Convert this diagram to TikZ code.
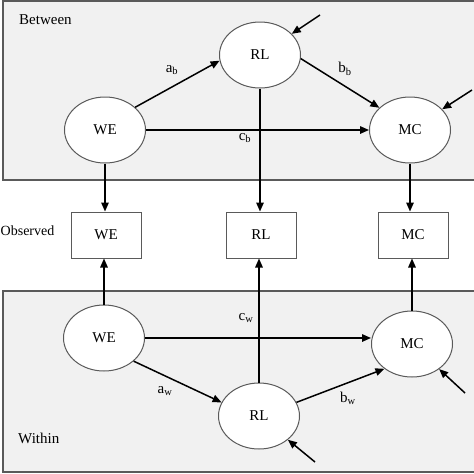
\documentclass[tikz,border=0pt]{standalone}
\usepackage{fontspec}
\setmainfont{Liberation Serif}
\usetikzlibrary{arrows.meta,shapes.geometric}
\definecolor{panelfill}{HTML}{F1F1F1}
\definecolor{edgegray}{HTML}{5A5A5A}
\begin{document}
\begin{tikzpicture}[x=1pt,y=-1pt,
  font=\fontsize{15}{18}\selectfont,
  panel/.style={draw=edgegray,line width=1.4pt,fill=panelfill},
  latent/.style={ellipse,draw=edgegray,line width=1pt,fill=white,minimum width=81pt,minimum height=66pt,inner sep=0pt},
  obs/.style={rectangle,draw=edgegray,line width=1pt,fill=white,minimum width=70pt,minimum height=46pt,inner sep=0pt},
  path/.style={line width=1.5pt,-{Triangle[length=9pt,width=7.5pt]}},
  lab/.style={inner sep=0pt}]
\useasboundingbox (0,0) rectangle (474,474);
\clip (0,0) rectangle (474,474);
% panels
\draw[panel] (3,1) rectangle (490,180);
\draw[panel] (3,291) rectangle (490,472);
\node[lab,anchor=west] (between) at (19,20) {Between};
\node[lab,anchor=west] (within) at (18,438) {Within};
\node[lab,anchor=west,font=\fontsize{14}{17}\selectfont] (observed) at (0.5,231) {Observed};
% between level
\node[latent] (weB) at (105,130) {WE};
\node[latent] (rlB) at (260,55) {RL};
\node[latent] (mcB) at (410,130) {MC};
% observed
\node[obs] (weO) at (106,235) {WE};
\node[obs] (rlO) at (261,235) {RL};
\node[obs] (mcO) at (413,235) {MC};
% within level
\node[latent] (weW) at (104,338) {WE};
\node[latent] (rlW) at (259,416) {RL};
\node[latent] (mcW) at (412,344) {MC};
% residual coordinates
\coordinate (eRLb) at (320,15);
\coordinate (eMCb) at (472,90);
\coordinate (eRLw) at (315,462);
\coordinate (eMCw) at (465,393);
% between paths
\draw[path] (weB.37) -- (rlB.188);
\draw[path] (rlB.355) -- (mcB.144);
\draw[path] (weB) -- (mcB);
% vertical to observed
\draw[path] (weB.south) -- (weB.south |- weO.north);
\draw[path] (rlB.south) -- (rlB.south |- rlO.north);
\draw[path] (mcB.south) -- (mcB.south |- mcO.north);
\draw[path] (weW.north) -- (weW.north |- weO.south);
\draw[path] (rlW.north) -- (rlW.north |- rlO.south);
\draw[path] (mcW.north) -- (mcW.north |- mcO.south);
% within paths
\draw[path] (weW.322) -- (rlW.160);
\draw[path] (rlW.20) -- (mcW.222);
\draw[path] (weW) -- (mcW.west |- weW);
% residuals
\draw[path] (eRLb) -- (rlB);
\draw[path] (eMCb) -- (mcB);
\draw[path] (eRLw) -- (rlW);
\draw[path] (eMCw) -- (mcW);
% labels
\node[lab] (ab) at (172,70) {a\textsubscript{b}};
\node[lab] (bb) at (345,69) {b\textsubscript{b}};
\node[lab] (cb) at (245,138) {c\textsubscript{b}};
\node[lab] (cw) at (246,318) {c\textsubscript{w}};
\node[lab] (aw) at (165,391) {a\textsubscript{w}};
\node[lab] (bw) at (348,398) {b\textsubscript{w}};
\end{tikzpicture}
\end{document}
